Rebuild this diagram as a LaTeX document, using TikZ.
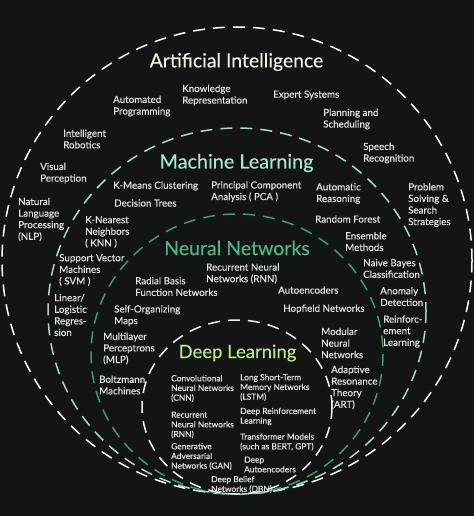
\documentclass[tikz,border=0pt]{standalone}
\usepackage{fontspec}
\setmainfont{Lato}
\newfontfamily\labfont{Lato}[FakeBold=0.35]
\newfontfamily\ttlfont{Lato}[FakeBold=0.2]
\definecolor{bg}{HTML}{121513}
\definecolor{lbl}{HTML}{E2E4E2}
\definecolor{aic}{HTML}{EEF2E8}
\definecolor{mlc}{HTML}{A6E8D0}
\definecolor{nnc}{HTML}{4DB88A}
\definecolor{dlc}{HTML}{BDE58F}
\definecolor{mlring}{HTML}{A8DCC6}
\definecolor{nnring}{HTML}{3E9C74}
\begin{document}
\begin{tikzpicture}[x=1pt,y=-1pt,
  ring/.style={line width=1.5pt, dash pattern=on 12pt off 8pt},
  lab/.style={anchor=west, align=left, inner sep=0pt, text=lbl,
    font=\labfont\fontsize{9.8}{11.6}\selectfont},
  dlab/.style={anchor=west, align=left, inner sep=0pt, text=lbl,
    font=\labfont\fontsize{8.4}{9.7}\selectfont},
  ttl/.style={anchor=center, inner sep=0pt}]
\useasboundingbox (0,0) rectangle (474,516);
\fill[bg] (0,0) rectangle (474,516);
% rings
\draw[ring, white] (237,260.5) ellipse [x radius=235, y radius=233.5];
\draw[ring, mlring] (237,311) ellipse [x radius=189, y radius=183];
\draw[ring, nnring] (237,354) ellipse [x radius=146, y radius=140];
\draw[ring, white!90!gray] (237,407) ellipse [x radius=95, y radius=87];
% titles
\node[ttl, text=aic, font=\ttlfont\fontsize{19.4}{22}\selectfont] (ai) at (236.5,62) {Artificial Intelligence};
\node[ttl, text=mlc, font=\ttlfont\fontsize{19.8}{22}\selectfont] (ml) at (236.5,163) {Machine Learning};
\node[ttl, text=nnc, font=\ttlfont\fontsize{19.5}{22}\selectfont] (nn) at (237,248) {Neural Networks};
\node[ttl, text=dlc, font=\ttlfont\fontsize{18.5}{20}\selectfont] (dl) at (237.5,353) {Deep Learning};
% AI labels
\node[lab] (a1) at (113,106) {Automated\\Programming};
\node[lab] (a2) at (182,95) {Knowledge\\Representation};
\node[lab] (a3) at (273,95) {Expert Systems};
\node[lab] (a4) at (323,119) {Planning and\\Scheduling};
\node[lab] (a5) at (63,139) {Intelligent\\Robotics};
\node[lab] (a6) at (363,153) {Speech\\Recognition};
\node[lab] (a7) at (40,173) {Visual\\Perception};
\node[lab] (a8) at (18,219.5) {Natural\\Language\\Processing\\(NLP)};
\node[lab] (a9) at (316,193.5) {Automatic\\Reasoning};
\node[lab] (a10) at (408,205) {Problem\\Solving \&\\Search\\Strategies};
% ML labels
\node[lab] (m1) at (113,186) {K-Means Clustering};
\node[lab] (m2) at (114,203) {Decision Trees};
\node[lab] (m3) at (211,191.5) {Principal Component\\Analysis ( PCA )};
\node[lab] (m4) at (85,232) {K-Nearest\\Neighbors\\( KNN )};
\node[lab] (m5) at (59,270) {Support Vector\\Machines\\( SVM )};
\node[lab] (m6) at (54,315) {Linear/\\Logistic\\Regres-\\sion};
\node[lab] (m7) at (315,219) {Random Forest};
\node[lab] (m8) at (345,241.5) {Ensemble\\Methods};
\node[lab] (m9) at (363,268.5) {Naive Bayes\\Classification};
\node[lab] (m10) at (380,296.5) {Anomaly\\Detection};
\node[lab] (m11) at (383,331.5) {Reinforc-\\ement\\Learning};
% NN labels
\node[lab] (n1) at (206,273.5) {Recurrent Neural\\Networks (RNN)};
\node[lab] (n2) at (135,286.5) {Radial Basis\\Function Networks};
\node[lab] (n3) at (114,315.5) {Self-Organizing\\Maps};
\node[lab] (n4) at (103,348.5) {Multilayer\\Perceptrons\\(MLP)};
\node[lab] (n5) at (278,290) {Autoencoders};
\node[lab] (n6) at (283,309) {Hopfield Networks};
\node[lab] (n7) at (321,343) {Modular\\Neural\\Networks};
\node[lab] (n8) at (99,385) {Boltzmann\\Machines};
\node[lab] (n9) at (331,387.5) {Adaptive\\Resonance\\Theory\\(ART)};
% DL labels
\node[dlab] (d1) at (171,388.5) {Convolutional\\Neural Networks\\(CNN)};
\node[dlab] (d2) at (240,387.5) {Long Short-Term\\Memory Networks\\(LSTM)};
\node[dlab] (d3) at (171,425) {Recurrent\\Neural Networks\\(RNN)};
\node[dlab] (d4) at (240,416.5) {Deep Reinforcement\\Learning};
\node[dlab] (d5) at (240,442) {Transformer Models\\(such as BERT, GPT)};
\node[dlab] (d6) at (171,456.5) {Generative\\Adversarial\\Networks (GAN)};
\node[dlab] (d7) at (244,464.5) {Deep\\Autoencoders};
\node[dlab] (d8) at (211,484.5) {Deep Belief\\Networks (DBN)};
\end{tikzpicture}
\end{document}
